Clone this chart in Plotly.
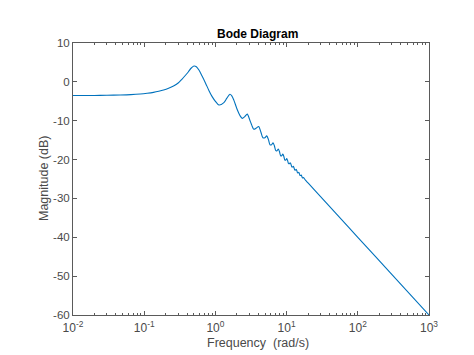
import plotly.graph_objects as go

# Frequency (rad/s) and magnitude (dB)
freq = [0.01, 0.02, 0.03, 0.046, 0.065, 0.088, 0.11, 0.135, 0.16, 0.187, 0.22, 0.258, 0.3,
        0.338, 0.38, 0.418, 0.455, 0.5, 0.54, 0.587, 0.65, 0.73, 0.81, 0.9, 1.0, 1.12,
        1.315, 1.45, 1.6, 1.7, 1.815, 2.03, 2.2, 2.38, 2.6, 2.8, 3.04, 3.25,
        3.46, 3.75, 4.05, 4.35, 4.65, 4.95, 5.25, 5.55, 5.85, 6.15, 6.45, 6.75,
        7.05, 7.35, 7.65, 7.95, 8.25, 8.55, 8.85, 9.15, 9.45, 9.75, 10.05, 10.35,
        10.65, 10.95, 11.25, 11.55, 11.85, 12.15, 12.45, 12.75, 13.05, 13.35,
        13.65, 13.95, 14.25, 14.55, 14.85, 15.15, 15.45, 15.75, 16.05, 16.35,
        16.65, 16.95, 17.25, 18.5, 20.0, 30.0, 50.0, 100.0, 300.0, 1000.0]
mag_db = [-3.52, -3.5, -3.46, -3.38, -3.28, -3.12, -2.93, -2.7, -2.42, -2.1, -1.65, -1.07, -0.3,
          0.66, 1.7, 2.6, 3.5, 4.08, 3.9, 3.05, 1.5, -0.4, -2.2, -3.8, -5.0, -5.95,
          -5.35, -4.2, -3.2, -3.6, -4.7, -7.2, -8.6, -9.4, -8.9, -8.3, -9.8, -11.2,
          -12.2, -11.9, -11.5, -12.9, -14.4, -14.4, -13.9, -14.8, -16.2, -16.2, -15.7, -16.5,
          -17.7, -17.7, -17.3, -18.0, -19.0, -19.0, -18.6, -19.2, -20.1, -20.1, -19.75, -20.3,
          -21.05, -21.05, -20.8, -21.3, -21.9, -21.9, -21.7, -22.2, -22.7, -22.7,
          -22.5, -22.9, -23.4, -23.4, -23.3, -23.7, -24.1, -24.1, -23.98, -24.3,
          -24.7, -24.7, -24.65, -25.35, -26.02, -29.54, -33.98, -40.0, -49.54, -60.0]

x_tickvals = [0.01, 0.1, 1, 10, 100, 1000]
x_ticktext = ["10<sup>-2</sup>", "10<sup>-1</sup>", "10<sup>0</sup>",
              "10<sup>1</sup>", "10<sup>2</sup>", "10<sup>3</sup>"]
y_tickvals = [-60, -50, -40, -30, -20, -10, 0, 10]
y_ticktext = ["-60", "-50", "-40", "-30", "-20", "-10", "0", "10"]

axis_col = "#5a5a5a"
text_col = "#4a4a4a"
font_fam = "Liberation Sans, Arial, sans-serif"

fig = go.Figure()
fig.add_trace(go.Scatter(
    x=freq, y=mag_db, mode="lines",
    line=dict(color="#0072BD", width=1.1, shape="spline", smoothing=0.8),
    hoverinfo="skip", showlegend=False))

fig.update_layout(
    width=466, height=347,
    margin=dict(l=65, r=45, t=35, b=40),
    paper_bgcolor="white", plot_bgcolor="white",
    font=dict(family=font_fam, size=11, color=text_col),
    showlegend=False,
)
fig.update_xaxes(
    type="log", range=[-2, 3],
    tickvals=x_tickvals, ticktext=x_ticktext, ticklabelstandoff=2,
    ticks="inside", ticklen=4, tickwidth=1, tickcolor=axis_col,
    minor=dict(ticks="inside", ticklen=2, tickcolor=axis_col, dtick="D1", showgrid=False),
    showline=True, linecolor=axis_col, linewidth=1, mirror="ticks",
    showgrid=False, zeroline=False,
    tickfont=dict(size=12, color=text_col),
)
fig.update_yaxes(
    range=[-60, 10], tickvals=y_tickvals, ticktext=y_ticktext,
    ticks="inside", ticklen=4, tickwidth=1, tickcolor=axis_col,
    showline=True, linecolor=axis_col, linewidth=1, mirror="ticks",
    showgrid=False, zeroline=False,
    tickfont=dict(size=11.5, color=text_col),
)

fig.add_annotation(text="<b>Bode Diagram</b>", xref="paper", yref="paper",
                   x=0.519, y=1, yshift=9, xanchor="center", yanchor="middle",
                   showarrow=False, font=dict(size=12, color="black", family=font_fam))
fig.add_annotation(text="Frequency  (rad/s)", xref="paper", yref="paper",
                   x=0.519, y=0, yshift=-28, xanchor="center", yanchor="middle",
                   showarrow=False, font=dict(size=12.5, color=text_col, family=font_fam))
fig.add_annotation(text="Magnitude (dB)", xref="paper", yref="paper",
                   x=0, xshift=-29, y=0.5, xanchor="center", yanchor="middle",
                   textangle=-90, showarrow=False,
                   font=dict(size=12.5, color=text_col, family=font_fam))

fig.write_html("out.html")
